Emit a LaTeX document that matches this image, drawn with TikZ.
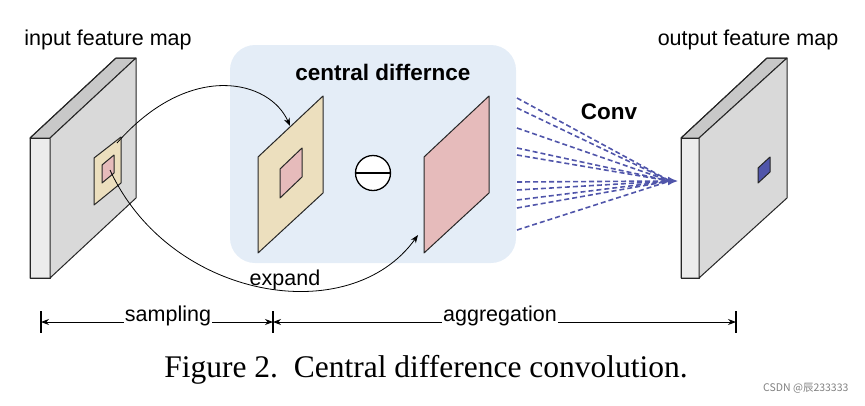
\documentclass[tikz,border=0pt]{standalone}
\usepackage{fontspec}
\setmainfont{Liberation Serif}
\newfontfamily\sansf{Liberation Sans}
\newfontfamily\cjk{Noto Sans CJK SC}
\usetikzlibrary{arrows.meta}
\definecolor{facegray}{RGB}{217,217,217}
\definecolor{sidegray}{RGB}{236,236,236}
\definecolor{topgray}{RGB}{200,200,200}
\definecolor{beige}{RGB}{236,223,190}
\definecolor{pinkf}{RGB}{230,187,187}
\definecolor{boxblue}{RGB}{228,237,247}
\definecolor{convblue}{RGB}{80,85,170}
\begin{document}
\begin{tikzpicture}[x=1pt,y=-1pt,
  face/.style={draw=black!85,line width=1pt,line join=round},
  lbl/.style={font=\sansf\fontsize{21.5}{24}\selectfont},
  conv/.style={convblue,dashed,dash pattern=on 5pt off 3pt,line width=1.6pt},
  tick/.style={line width=2.4pt},
  dim/.style={line width=0.9pt}]
\useasboundingbox (0,0) rectangle (865,405);
% blue box
\node[fill=boxblue,rounded corners=25pt,minimum width=286pt,minimum height=218pt,inner sep=0pt] (box) at (373,154) {};
\node[font=\sansf\bfseries\fontsize{22.5}{25}\selectfont] (cd) at (383,72) {central differnce};
% input map
\fill[face,fill=topgray] (30,138)--(116,58)--(136,58)--(50,138)--cycle;
\fill[face,fill=sidegray] (30,138)--(50,138)--(50,278)--(30,278)--cycle;
\filldraw[face,fill=facegray] (50,138)--(136,58)--(136,198)--(50,278)--cycle;
\draw[face] (30,138)--(116,58)--(136,58) (30,138)--(30,278)--(50,278);
\filldraw[face,fill=beige] (94,158)--(121,137)--(121,183)--(94,205)--cycle;
\filldraw[face,fill=pinkf] (102,165)--(114,155)--(114,173)--(102,183)--cycle;
\coordinate (p1) at (117,143);
\coordinate (p2) at (110,170);
% middle
\filldraw[face,fill=beige] (258,157)--(323,96)--(323,193)--(258,253)--cycle;
\filldraw[face,fill=pinkf] (280,169)--(302,148)--(302,177)--(280,198)--cycle;
\node[draw=black,line width=1.3pt,fill=white,circle,minimum size=35pt,inner sep=0pt] (minus) at (373,173) {};
\draw[line width=1.6pt] (minus.west) -- (minus.east);
\filldraw[face,fill=pinkf] (424,157)--(489,96)--(489,193)--(424,253)--cycle;
\coordinate (t1) at (290,126);
\coordinate (t2) at (418,235);
\draw[line width=0.8pt,-{Stealth[length=8pt,width=6pt]}] (p1) .. controls (190,60) and (270,80) .. (t1);
\draw[line width=0.8pt,-{Stealth[length=8pt,width=6pt]}] (p2) .. controls (170,300) and (350,330) .. (t2);
\node[lbl] (exp) at (285,280) {expand};
% conv
\coordinate (tip) at (678,181);
\foreach \y in {98,108,128,148,155,182,190,200,208,230}{
  \draw[conv] (517,\y) -- (670,181);
}
\draw[convblue,-{Latex[length=10pt,width=9pt]},line width=1.5pt] (662,181) -- (tip);
\node[font=\sansf\bfseries\fontsize{22.5}{25}\selectfont] (cv) at (609,112) {Conv};
% output map
\fill[face,fill=topgray] (681,138)--(767,58)--(787,58)--(699,138)--cycle;
\fill[face,fill=sidegray] (681,138)--(699,138)--(699,278)--(681,278)--cycle;
\filldraw[face,fill=facegray] (699,138)--(787,58)--(787,198)--(699,278)--cycle;
\draw[face] (681,138)--(767,58)--(787,58) (681,138)--(681,278)--(699,278);
\filldraw[face,fill=convblue] (758,168)--(770,157)--(770,172)--(758,183)--cycle;
% labels
\node[lbl] (in) at (108,40) {input feature map};
\node[lbl] (out) at (748,40) {output feature map};
% dimension
\coordinate (a) at (41,322); \coordinate (b) at (273,322); \coordinate (c) at (736,322);
\draw[tick] (41,311)--(41,333) (273,311)--(273,333) (736,311)--(736,333);
\node[lbl,fill=white,inner sep=1pt] (s) at (168,316) {sampling};
\node[lbl,fill=white,inner sep=1pt] (g) at (500,316) {aggregation};
\draw[dim,-{Stealth[length=8pt]}] (s.west|-a) -- (a);
\draw[dim,-{Stealth[length=8pt]}] (s.east|-a) -- (b);
\draw[dim,-{Stealth[length=8pt]}] (g.west|-a) -- (b);
\draw[dim,-{Stealth[length=8pt]}] (g.east|-a) -- (c);
\node[font=\fontsize{31.5}{34}\selectfont] (cap) at (426,370) {Figure 2.\ \ Central difference convolution.};
\node[font=\cjk\fontsize{10.5}{12}\selectfont,text=gray,anchor=east] (wm) at (852,388) {CSDN @辰233333};
\end{tikzpicture}
\end{document}
